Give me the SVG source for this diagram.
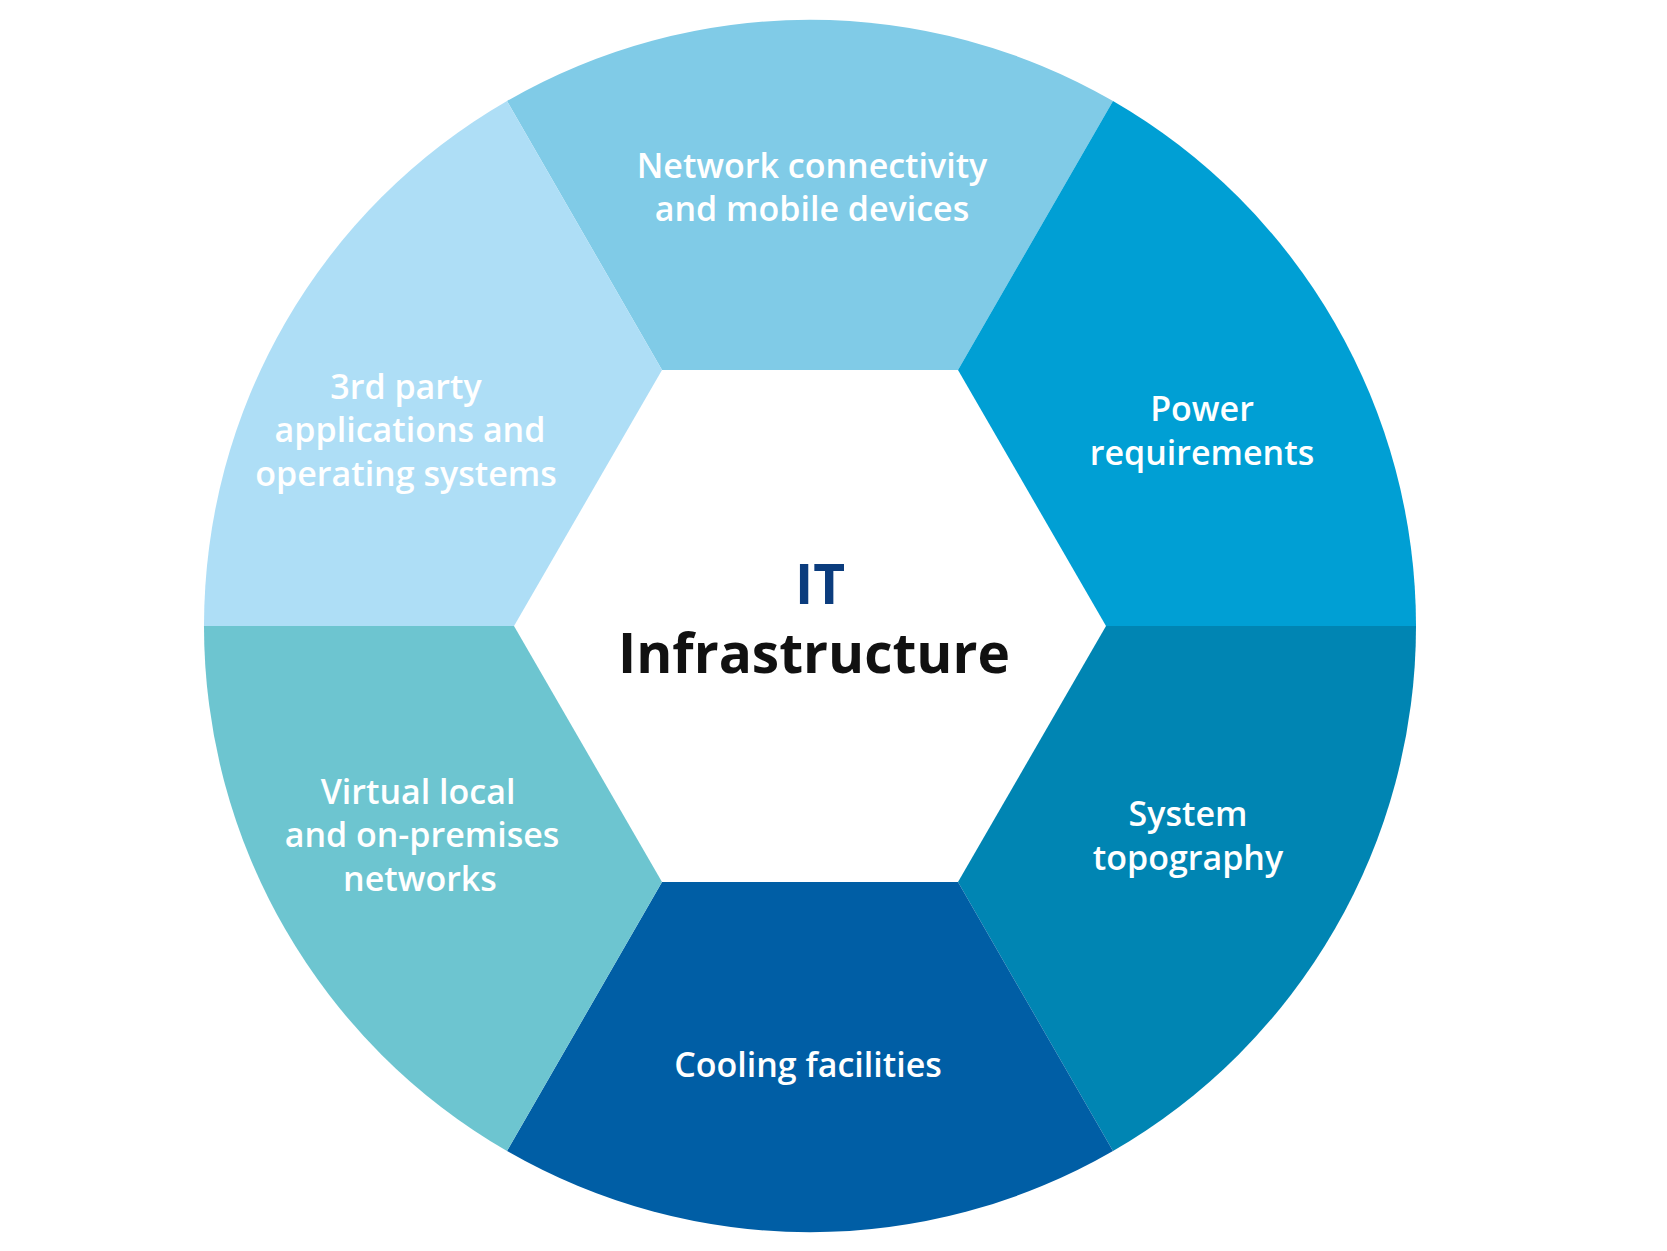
<svg xmlns="http://www.w3.org/2000/svg" width="1667" height="1251" viewBox="0 0 1667 1251">
<style>
.l{font-family:"Open Sans","Noto Sans",sans-serif;font-weight:600;font-size:34px;fill:#fff;text-anchor:middle}
.c{font-family:"Open Sans","Noto Sans",sans-serif;font-weight:700;font-size:55px;text-anchor:middle}
</style>
<rect width="1667" height="1251" fill="#fff"/>
<g id="top"><path d="M662,370 L507,101 A606,606 0 0 1 1113,101 L958,370 Z" fill="#80CBE7"/>
<text class="l" x="812" y="178">Network connectivity</text><text class="l" x="812" y="221">and mobile devices</text></g>
<g id="upper-right"><path d="M958,370 L1113,101 A606,606 0 0 1 1416,626 L1106,626 Z" fill="#009FD4"/>
<text class="l" x="1202" y="421">Power</text><text class="l" x="1202" y="465">requirements</text></g>
<g id="lower-right"><path d="M1106,626 L1416,626 A606,606 0 0 1 1113,1151 L958,882 Z" fill="#0085B3"/>
<text class="l" x="1188" y="826">System</text><text class="l" x="1188" y="870">topography</text></g>
<g id="bottom"><path d="M958,882 L1113,1151 A606,606 0 0 1 507,1151 L662,882 Z" fill="#005EA5"/>
<text class="l" x="808" y="1077">Cooling facilities</text></g>
<g id="lower-left"><path d="M662,882 L507,1151 A606,606 0 0 1 204,626 L514,626 Z" fill="#6DC5D0"/>
<text class="l" x="418" y="804">Virtual local</text><text class="l" x="422" y="847">and on-premises</text><text class="l" x="420" y="891">networks</text></g>
<g id="upper-left"><path d="M514,626 L204,626 A606,606 0 0 1 507,101 L662,370 Z" fill="#AEDEF6"/>
<text class="l" x="406" y="399">3rd party</text><text class="l" x="410" y="442">applications and</text><text class="l" x="406" y="486">operating systems</text></g>
<g id="center"><text class="c" x="820" y="604" fill="#0B3C7D">IT</text><text class="c" x="814" y="673" fill="#111">Infrastructure</text></g>
<g id="connectors"/>
</svg>
